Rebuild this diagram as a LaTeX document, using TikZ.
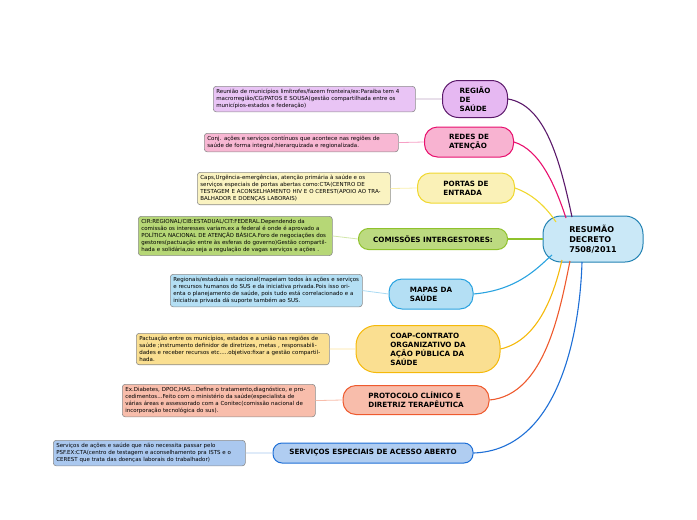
\documentclass[tikz,border=0pt]{standalone}
\usepackage{fontspec}
\setmainfont{DejaVu Sans}
\begin{document}
\begin{tikzpicture}[x=1pt,y=-1pt,
 leaf/.style={draw=black!45,rounded corners=3pt,font=\fontsize{5.5}{7}\selectfont,align=left,inner sep=3pt,anchor=north west,line width=0.6pt},
 br/.style={rounded corners=13pt,line width=1pt,font=\bfseries\fontsize{7.2}{9}\selectfont,align=left,inner sep=2pt},
 lk/.style={line width=0.8pt},
 mk/.style={line width=1.1pt}]
\useasboundingbox (0,0) rectangle (697,520);
\definecolor{cA}{HTML}{5C1A6B}\definecolor{cB}{HTML}{E8106E}\definecolor{cC}{HTML}{F0D830}
\definecolor{cD}{HTML}{8FC22C}\definecolor{cE}{HTML}{2AA3E0}\definecolor{cF}{HTML}{F5B90A}
\definecolor{cG}{HTML}{EE5A2E}\definecolor{cH}{HTML}{1E6FD6}
\definecolor{fA}{HTML}{E6B8F2}\definecolor{fA2}{HTML}{E9C4F5}
% centre
\node[draw=cE!80!black,fill=cE!25,rounded corners=18pt,line width=1pt,minimum width=100pt,minimum height=46pt,font=\bfseries\fontsize{8}{10}\selectfont,align=left] (c) at (593,239) {RESUMÃO\\DECRETO\\7508/2011};
% branches
\node[br,draw=cA,fill=fA,minimum width=65pt,minimum height=37pt,rounded corners=16pt] (b1) at (475,99) {REGIÃO\\DE\\SAÚDE};
\node[br,draw=cB,fill=cB!32!white,minimum width=89pt,minimum height=30pt] (b2) at (469,142) {REDES DE\\ATENÇÃO};
\node[br,draw=cC,fill=cC!35!white,minimum width=97pt,minimum height=30pt] (b3) at (466,188) {PORTAS DE\\ENTRADA};
\node[br,draw=cD,fill=cD!60!white,minimum width=149pt,minimum height=21pt,rounded corners=10pt] (b4) at (433,239) {COMISSÕES INTERGESTORES:};
\node[br,draw=cE,fill=cE!35!white,minimum width=84pt,minimum height=30pt] (b5) at (431,294) {MAPAS DA\\SAÚDE};
\node[br,draw=cF,fill=cF!45!white,minimum width=144pt,minimum height=47pt,rounded corners=20pt] (b6) at (428,349) {COAP-CONTRATO\\ORGANIZATIVO DA\\AÇÃO PÚBLICA DA\\SAÚDE};
\node[br,draw=cG,fill=cG!40!white,minimum width=146pt,minimum height=29pt] (b7) at (416,400) {PROTOCOLO CLÍNICO E\\DIRETRIZ TERAPÊUTICA};
\node[br,draw=cH,fill=cH!35!white,minimum width=200pt,minimum height=20pt,rounded corners=9pt] (b8) at (373,453) {SERVIÇOS ESPECIAIS DE ACESSO ABERTO};
% leaves
\node[leaf,fill=fA2,text width=196pt] (l1) at (213,86) {Reunião de municípios limítrofes/fazem fronteira/ex:Paraiba tem 4 macrorregião/CG/PATOS E SOUSA(gestão compartilhada entre os municípios-estados e federação)};
\node[leaf,fill=cB!30!white,text width=188pt] (l2) at (204,133) {Conj. ações e serviços contínuos que acontece nas regiões de saúde de forma integral,hierarquizada e regionalizada.};
\node[leaf,fill=cC!30!white,text width=187pt] (l3) at (197,172) {Caps,Urgência-emergências, atenção primária à saúde  e os serviços especiais de portas abertas como:CTA(CENTRO DE TESTAGEM E ACONSELHAMENTO HIV E O CEREST(APOIO AO TRABALHADOR E DOENÇAS LABORAIS)};
\node[leaf,fill=cD!65!white,text width=188pt] (l4) at (138,216) {CIR:REGIONAL/CIB:ESTADUAL/CIT:FEDERAL.Dependendo da comissão os interesses variam.ex a federal é onde é aprovado a POLÍTICA NACIONAL DE ATENÇÃO BÁSICA.Foro de negociações dos gestores(pactuação entre às esferas do governo)Gestão compartilhada e solidária,ou seja a regulação de vagas serviços e ações .};
\node[leaf,fill=cE!35!white,text width=186pt] (l5) at (170,274) {Regionais/estaduais e  nacional(mapeiam todos  às ações e serviços e recursos humanos do SUS e da iniciativa privada.Pois isso orienta o planejamento de saúde, pois tudo está correlacionado e a iniciativa privada dá suporte também ao SUS.};
\node[leaf,fill=cF!45!white,text width=187pt] (l6) at (136,333) {Pactuação entre os municípios, estados e a união nas regiões de saúde ;instrumento definidor de diretrizes, metas , responsabilidades e receber recursos etc.....objetivo:fixar a gestão compartilhada.};
\node[leaf,fill=cG!40!white,text width=187pt] (l7) at (122,384) {Ex.Diabetes, DPOC,HAS...Define o tratamento,diagnóstico, e procedimentos...Feito com o ministério da saúde(especialista de várias áreas e assessorado com a Conitec(comissão nacional de incorporação tecnológica do sus).};
\node[leaf,fill=cH!38!white,text width=186pt] (l8) at (53,440) {Serviços de ações e saúde que não necessita passar pelo PSF.EX:CTA(centro de testagem e aconselhamento pra ISTS e o CEREST que trata das doenças laborais do trabalhador)};
% leaf links
\draw[lk,cA!40] (l1.east) -- (b1.west);
\draw[lk,cB!40] (l2.east) -- (b2.west);
\draw[lk,cC!40] (l3.east) -- (b3.west);
\draw[lk,cD!40] (l4.east) -- (b4.west);
\draw[lk,cE!40] (l5.east) -- (b5.west);
\draw[lk,cF!40] (l6.east) -- (b6.west);
\draw[lk,cG!40] (l7.east) -- (b7.west);
\draw[lk,cH!40] (l8.east) -- (b8.west);
% main links
\coordinate (o1) at (572,217);\coordinate (o2) at (566,218);\coordinate (o3) at (556,222);
\coordinate (o4) at (543,239);\coordinate (o5) at (552,255);\coordinate (o6) at (562,260);
\coordinate (o7) at (570,261);\coordinate (o8) at (582,262);
\draw[mk,cA] (b1.east) .. controls (545,105) and (560,160) .. (o1);
\draw[mk,cB] (b2.east) .. controls (540,150) and (555,185) .. (o2);
\draw[mk,cC] (b3.east) .. controls (535,195) and (548,210) .. (o3);
\draw[mk,cD] (b4.east) -- (o4);
\draw[mk,cE] (b5.east) .. controls (520,290) and (540,265) .. (o5);
\draw[mk,cF] (b6.east) .. controls (540,340) and (555,290) .. (o6);
\draw[mk,cG] (b7.east) .. controls (545,395) and (560,310) .. (o7);
\draw[mk,cH] (b8.east) .. controls (560,450) and (580,330) .. (o8);
\end{tikzpicture}
\end{document}
